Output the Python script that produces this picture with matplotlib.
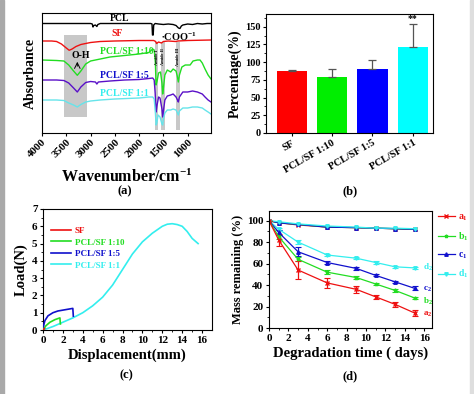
import numpy as np
import matplotlib
matplotlib.use("Agg")
import matplotlib.pyplot as plt
from matplotlib.patches import Rectangle

plt.rcParams['font.family'] = ['Liberation Serif', 'DejaVu Serif']
plt.rcParams['font.weight'] = 'bold'
plt.rcParams['axes.labelweight'] = 'bold'
plt.rcParams['mathtext.fontset'] = 'custom'
plt.rcParams['mathtext.rm'] = 'Liberation Serif:bold'
plt.rcParams['mathtext.it'] = 'Liberation Serif:bold:italic'
plt.rcParams['mathtext.bf'] = 'Liberation Serif:bold'
plt.rcParams['mathtext.default'] = 'rm'
plt.rcParams['axes.linewidth'] = 0.8

# ============================================
# DATA
# ============================================
# (a) FTIR spectra, (wavenumber, offset absorbance)
pcl_ir = [(4000,109.5),(3000,109.5),(2965,109),(2950,106),(2935,107.5),(2900,108),
          (2870,106.5),(2850,108.5),(2800,109.5),(2000,109.5),(1760,109.5),(1735,109),
          (1725,98),(1710,98),(1700,108),(1670,109.5),(1600,109),(1500,108.5),(1400,109),
          (1300,108.5),(1240,107.5),(1190,105),(1160,104.5),(1130,107),(1100,108),
          (1000,109),(900,108.5),(800,109.5),(700,109),(600,109.5),(520,109.5)]
sf_ir = [(4000,92),(3800,92),(3700,91.5),(3600,89),(3500,85),(3440,82.7),(3380,84),
         (3300,86.5),(3200,88.5),(3100,89.5),(3000,90.5),(2800,91.5),(2500,92),(2000,92.5),
         (1700,92.5),(1660,91.5),(1640,89.5),(1600,91),(1540,90),(1500,91.5),(1400,92),
         (1250,91.5),(1200,92),(1000,92.5),(520,93)]
pcl_sf_10_ir = [(4000,73),(3700,72.5),(3550,72),(3450,68),(3350,62),(3273,57.7),(3200,62),
                (3100,69),(3000,72),(2800,74),(2600,76),(2300,77.5),(2000,79),(1800,80.5),
                (1720,84),(1690,83),(1665,70),(1652,48),(1630,52),(1600,60),(1560,61),
                (1530,50),(1515,39),(1500,45),(1470,58),(1420,63),(1350,61),(1300,64),
                (1240,62),(1215,57),(1193,51),(1170,58),(1120,66),(1050,68),(950,68),
                (890,72),(800,73),(746,73),(700,70),(643,64),(580,58),(520,54)]
pcl_sf_5_ir = [(4000,0),(3995,53),(3700,53),(3550,52.5),(3450,50),(3350,45),(3273,41),
               (3200,46),(3100,50.5),(3000,51.5),(2900,51),(2870,49),(2840,51),(2600,52),
               (2300,53),(2000,53.5),(1800,54.5),(1720,55),(1690,53),(1670,40),(1650,21),
               (1630,28),(1600,36),(1570,35),(1530,24),(1515,16),(1500,22),(1470,33),
               (1420,37),(1350,38),(1300,39),(1240,36),(1210,33),(1193,31),(1170,36),
               (1100,41),(1000,41),(900,42),(800,41),(700,39),(643,36),(580,33),(520,31)]
pcl_sf_1_ir = [(4000,33),(3700,33),(3550,32.5),(3450,30),(3350,28),(3273,26),(3200,28.5),
               (3100,31),(3000,32),(2800,33),(2500,34),(2000,35),(1800,36),(1720,36),
               (1690,34),(1665,20),(1650,8),(1635,10),(1610,18),(1570,16),(1530,9),
               (1515,8),(1500,14),(1470,20),(1420,23),(1350,23),(1300,24),(1240,23),
               (1210,20),(1193,18),(1170,22),(1100,25),(1000,25),(900,26),(800,26),
               (700,25),(643,23),(580,21),(520,19)]
oh_band = (3547, 3080)
amide_bands = [(1673, 1611), (1549, 1467), (1240, 1158)]
amide_names = ["Amide I", "Amide II", "Amide III"]

# (b) percentage bars
groups = ["SF", "PCL/SF 1:10", "PCL/SF 1:5", "PCL/SF 1:1"]
percent = [87, 79, 91, 121]
percent_err = [1.5, 11, 12, 33]

# (c) load vs displacement
sf_disp = [0, 0.08, 0.15]
sf_load = [0, 0.05, 0.08]
d10_disp = [0, 0.3, 0.7, 1.2, 1.6, 1.7, 1.75]
d10_load = [0, 0.25, 0.45, 0.6, 0.68, 0.7, 0.35]
d5_disp = [0, 0.1, 0.2, 0.5, 1.0, 1.5, 2.0, 2.5, 3.0, 3.05]
d5_load = [0, 0.35, 0.55, 0.82, 1.0, 1.1, 1.15, 1.2, 1.25, 0.8]
d1_disp = [0, 1, 2, 3, 4, 5, 6, 7, 8, 9, 10, 11, 12, 12.5, 13, 13.5, 14, 14.5, 15, 15.6]
d1_load = [0, 0.2, 0.45, 0.7, 1.0, 1.4, 1.9, 2.6, 3.5, 4.4, 5.1, 5.6, 6.0, 6.12, 6.15,
           6.1, 6.0, 5.7, 5.3, 5.0]

# (d) mass remaining
days = [0, 1, 3, 6, 9, 11, 13, 15]
a1 = [100, 98, 96, 94, 93.5, 93, 92.5, 92]
b1 = [100, 98, 96.5, 94, 93.5, 93, 92.5, 92]
c1 = [100, 98, 96.5, 94, 93.5, 93, 92.5, 92]
d1 = [100, 99, 97, 95, 94, 93, 93, 92.5]
a2 = [100, 82, 54, 42, 36, 29, 22, 14]
b2 = [100, 85, 64, 52, 47, 41, 35, 28]
c2 = [100, 89, 71, 61, 55.5, 49, 43, 37]
d2 = [100, 92, 80, 68, 65, 61, 57, 56]
a2_err = [0, 6, 8, 5, 3, 2, 2, 3]
b2_err = [0, 2, 2, 2, 1.5, 1, 1, 1]
c2_err = [0, 2, 4, 1, 1, 1, 1, 2]
d2_err = [0, 1, 2, 1, 1, 1, 1, 1]
end_labels = ["d$_2$", "c$_2$", "b$_2$", "a$_2$"]
end_label_y = [56, 35.5, 24.5, 13]

RED = '#ee1111'
GREEN = '#22dd22'
BLUE = '#1010cc'
PURPLE = '#5a10c8'
CYAN = '#33eeee'

W, H = 474, 394
fig = plt.figure(figsize=(W / 100, H / 100), dpi=100)

# grey page edges
fig.patches.append(Rectangle((0, 0), 4 / W, 1, transform=fig.transFigure,
                             color='#a9a9a9', zorder=-5))
fig.patches.append(Rectangle((470 / W, 0), 4 / W, 1, transform=fig.transFigure,
                             color='#dedede', zorder=-5))


def px_axes(l, t, r, b):
    return fig.add_axes([l / W, 1 - b / H, (r - l) / W, (b - t) / H])


# ============================================
# (a) FTIR
# ============================================
ax = px_axes(42, 13, 211, 133)
ax.axvspan(oh_band[0], oh_band[1], ymin=16 / 120, ymax=98 / 120, color='#c8c8c8', lw=0)
for (w0, w1) in amide_bands:
    ax.axvspan(w0, w1, ymin=3 / 120, ymax=91 / 120, color='#c8c8c8', lw=0)
for spec, col in [(pcl_ir, 'black'), (sf_ir, RED), (pcl_sf_10_ir, GREEN),
                  (pcl_sf_5_ir, PURPLE), (pcl_sf_1_ir, '#66e4ea')]:
    arr = np.array(spec)
    ax.plot(arr[:, 0], arr[:, 1], color=col, lw=1.0)
for (w0, w1), nm in zip(amide_bands, amide_names):
    ax.text((w0 + w1) / 2, 76, nm, rotation=90, fontsize=3.2, ha='center', va='center')
ax.set_xlim(4000, 520)
ax.set_ylim(0, 120)
ax.set_yticks([])
ax.set_xticks([4000, 3500, 3000, 2500, 2000, 1500, 1000])
ax.tick_params(axis='x', labelsize=8, length=2.5, pad=1)
for lab in ax.get_xticklabels():
    lab.set_rotation(45)
    lab.set_ha('right')
    lab.set_rotation_mode('anchor')
ax.text(2394, 114.3, "PCL", fontsize=7, ha='center', va='center')
ax.text(2445, 99.3, "SF", fontsize=7, ha='center', va='center', color=RED)
ax.text(2806, 81, "PCL/SF 1:10", fontsize=7, ha='left', va='center', color=GREEN)
ax.text(2806, 58, "PCL/SF 1:5", fontsize=7, ha='left', va='center', color=BLUE)
ax.text(2806, 39, "PCL/SF 1:1", fontsize=7, ha='left', va='center', color=CYAN)
ax.text(3210, 78, "O-H", fontsize=7, ha='center', va='center')
ax.annotate("", xy=(3273, 74), xytext=(3273, 64),
            arrowprops=dict(arrowstyle='->', lw=0.7, color='black'))
ax.text(1540, 96, r"$\bullet$COO$^{-1}$", fontsize=7.5, ha='left', va='center')
ax.set_ylabel("Absorbance", fontsize=10, labelpad=4)
ax.set_xlabel(r"Wavenumber/cm$^{-1}$", fontsize=11.5, labelpad=6)

# ============================================
# (b) bars
# ============================================
ax = px_axes(266, 14, 433, 133)
xb = np.arange(len(groups))
ax.bar(xb, percent, width=0.75, color=['#ff0000', '#00ee00', '#0000ff', '#00ffff'],
       zorder=2)
ax.errorbar(xb, percent, yerr=[np.zeros(len(percent)), percent_err], fmt='none',
            ecolor='#555555', elinewidth=0.9, capsize=3, capthick=0.9, zorder=3)
ax.text(xb[-1], percent[-1] + percent_err[-1] + 1, "**", fontsize=7, ha='center',
        va='bottom')
ax.set_xlim(-0.64, 3.5)
ax.set_ylim(0, 168)
ax.set_yticks([0, 25, 50, 75, 100, 125, 150])
ax.set_yticks(np.arange(12.5, 168, 25), minor=True)
ax.set_xticks(xb)
ax.set_xticklabels(groups, rotation=30, ha='right', rotation_mode='anchor')
ax.tick_params(labelsize=7.5, length=2.5, pad=1.5)
ax.tick_params(which='minor', length=1.5)
ax.set_ylabel("Percentage(%)", fontsize=10, labelpad=2)

# ============================================
# (c) load vs displacement
# ============================================
ax = px_axes(43, 209, 212, 330)
ax.plot(d1_disp, d1_load, color=CYAN, lw=1.2, label="PCL/SF 1:1", zorder=2)
ax.plot(d5_disp, d5_load, color=BLUE, lw=1.2, label="PCL/SF 1:5", zorder=3)
ax.plot(d10_disp, d10_load, color=GREEN, lw=1.2, label="PCL/SF 1:10", zorder=4)
ax.plot(sf_disp, sf_load, color=RED, lw=1.2, label="SF", zorder=5)
h, l = ax.get_legend_handles_labels()
leg = ax.legend(h[::-1], l[::-1], loc='upper left', bbox_to_anchor=(0.0, 0.92),
                frameon=False, fontsize=6.5, handlelength=2.2, handletextpad=0.4,
                labelspacing=0.35)
for txt, col in zip(leg.get_texts(), [RED, GREEN, BLUE, CYAN]):
    txt.set_color(col)
ax.set_xlim(0, 17)
ax.set_ylim(0, 7)
ax.set_xticks(range(0, 17, 2))
ax.set_xticks(range(1, 17, 2), minor=True)
ax.set_yticks(range(0, 8))
ax.set_yticks(np.arange(0.5, 7, 1), minor=True)
ax.tick_params(labelsize=8, length=2.5, pad=1.5)
ax.tick_params(which='minor', length=1.5)
ax.set_xlabel("Displacement(mm)", fontsize=10.5, labelpad=3)
ax.set_ylabel("Load(N)", fontsize=10.5, labelpad=3)

# ============================================
# (d) degradation
# ============================================
ax = px_axes(269, 211, 432, 328)
series = [(a1, RED, 'x', "a$_1$"), (b1, GREEN, '*', "b$_1$"),
          (c1, BLUE, '^', "c$_1$"), (d1, CYAN, 'v', "d$_1$")]
for ys, col, mk, lab in series:
    ax.plot(days, ys, color=col, marker=mk, ms=2.5, lw=0.9, label=lab)
for ys, err, col, mk, lab, ly in zip([d2, c2, b2, a2], [d2_err, c2_err, b2_err, a2_err],
                                     [CYAN, BLUE, GREEN, RED], ['v', '^', '*', 'x'],
                                     end_labels, end_label_y):
    ax.errorbar(days, ys, yerr=err, color=col, marker=mk, ms=2.5, lw=0.9,
                elinewidth=0.9, capsize=2, capthick=0.8)
    ax.text(15.9, ly, lab, color=col, fontsize=6.5, ha='left', va='center')
leg = ax.legend(loc='upper left', bbox_to_anchor=(1.01, 1.02), frameon=False,
                fontsize=7, handlelength=1.8, handletextpad=0.3, labelspacing=0.75,
                borderaxespad=0)
for txt, col in zip(leg.get_texts(), [RED, GREEN, BLUE, CYAN]):
    txt.set_color(col)
ax.set_xlim(0, 16.8)
ax.set_ylim(0, 109)
ax.set_xticks(range(0, 17, 2))
ax.set_xticks(range(1, 17, 2), minor=True)
ax.set_yticks(range(0, 101, 20))
ax.set_yticks(range(10, 110, 20), minor=True)
ax.tick_params(labelsize=8, length=2.5, pad=1.5)
ax.tick_params(which='minor', length=1.5)
ax.set_xlabel("Degradation time ( days)", fontsize=10.5, labelpad=3)
ax.set_ylabel("Mass remaining (%)", fontsize=9, labelpad=2)

# panel letters
for lab, x, y in [("(a)", 125, 191), ("(b)", 350, 191), ("(c)", 126, 375), ("(d)", 350, 376)]:
    fig.text(x / W, 1 - y / H, lab, fontsize=9, ha='center', va='center')

fig.savefig("out.png", dpi=100)
